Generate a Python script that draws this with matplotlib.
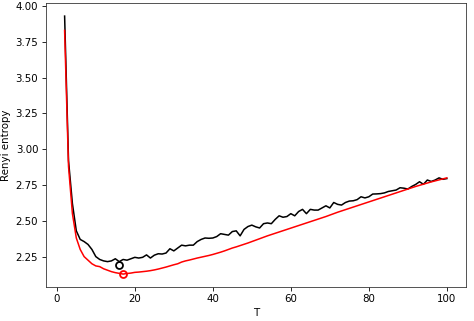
import numpy as np
import matplotlib
matplotlib.use('Agg')
import matplotlib.pyplot as plt

T = np.arange(2, 101)

renyi_black = [
    3.93, 2.92, 2.62, 2.43, 2.37, 2.355, 2.335, 2.30, 2.25, 2.23,
    2.22, 2.215, 2.22, 2.235, 2.215, 2.23, 2.225, 2.235, 2.245, 2.24,
    2.245, 2.262, 2.24, 2.26, 2.27, 2.268, 2.275, 2.305, 2.29, 2.31,
    2.33, 2.325, 2.33, 2.33, 2.355, 2.37, 2.38, 2.378, 2.38, 2.39,
    2.41, 2.405, 2.40, 2.425, 2.43, 2.395, 2.44, 2.46, 2.47, 2.458,
    2.45, 2.48, 2.485, 2.48, 2.51, 2.535, 2.525, 2.53, 2.55, 2.535,
    2.565, 2.58, 2.55, 2.58, 2.575, 2.575, 2.59, 2.605, 2.59, 2.628,
    2.615, 2.61, 2.628, 2.638, 2.64, 2.648, 2.668, 2.66, 2.668, 2.687,
    2.688, 2.69, 2.695, 2.705, 2.71, 2.715, 2.731, 2.728, 2.722, 2.74,
    2.754, 2.773, 2.755, 2.785, 2.775, 2.785, 2.80, 2.79, 2.795,
]

renyi_red = [
    3.83, 2.88, 2.55, 2.38, 2.30, 2.25, 2.225, 2.20, 2.185, 2.18,
    2.165, 2.155, 2.145, 2.138, 2.133, 2.128, 2.132, 2.135, 2.14, 2.142,
    2.145, 2.148, 2.152, 2.157, 2.163, 2.17, 2.177, 2.185, 2.193, 2.20,
    2.212, 2.22, 2.226, 2.233, 2.24, 2.246, 2.252, 2.258, 2.265, 2.273,
    2.281, 2.29, 2.30, 2.31, 2.318, 2.327, 2.336, 2.345, 2.355, 2.365,
    2.375, 2.385, 2.395, 2.404, 2.413, 2.422, 2.431, 2.44, 2.449, 2.458,
    2.467, 2.476, 2.485, 2.494, 2.503, 2.512, 2.521, 2.53, 2.54, 2.55,
    2.56, 2.569, 2.578, 2.587, 2.596, 2.605, 2.614, 2.623, 2.632, 2.641,
    2.65, 2.659, 2.668, 2.677, 2.686, 2.695, 2.704, 2.713, 2.722, 2.731,
    2.74, 2.748, 2.756, 2.764, 2.772, 2.779, 2.786, 2.793, 2.80,
]

# marked minima
min_black = (16, 2.19)
min_red = (17, 2.128)

s = 0.74  # reference looks like a downscaled default figure
plt.rcParams.update({
    'font.size': 10 * s,
    'axes.linewidth': 0.8 * s,
    'axes.edgecolor': '#333333',
    'xtick.major.size': 3.5 * s,
    'ytick.major.size': 3.5 * s,
    'xtick.major.width': 0.8 * s,
    'ytick.major.width': 0.8 * s,
    'xtick.major.pad': 3.5 * s,
    'ytick.major.pad': 3.5 * s,
    'axes.labelpad': 4 * s,
})

fig = plt.figure(figsize=(4.74, 3.21), dpi=100)
ax = fig.add_axes([0.096, 0.106, 0.887, 0.884])

ax.plot(T, renyi_black, color='black', lw=1.1)
ax.plot(T, renyi_red, color='red', lw=1.1)
ax.plot(*min_black, 'o', mfc='none', mec='black', ms=5, mew=1.3)
ax.plot(*min_red, 'o', mfc='none', mec='red', ms=5, mew=1.3)

ax.set_xlabel('T')
ax.set_ylabel('Renyi entropy')
ax.set_xticks([0, 20, 40, 60, 80, 100])

fig.savefig('out.png', dpi=100)
